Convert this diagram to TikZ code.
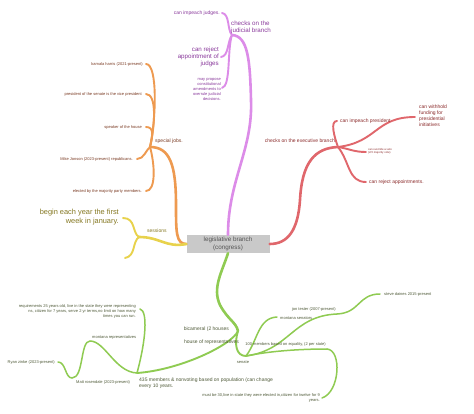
\documentclass[tikz,border=0pt]{standalone}
\usepackage{fontspec}
\setmainfont{Liberation Sans}
\definecolor{pinkl}{HTML}{DC8CE8}
\definecolor{pinkt}{HTML}{8A3A9C}
\definecolor{orl}{HTML}{EE9A50}
\definecolor{ort}{HTML}{7A3A22}
\definecolor{redl}{HTML}{E0676C}
\definecolor{redt}{HTML}{8B2B2B}
\definecolor{yell}{HTML}{E8D24C}
\definecolor{yelt}{HTML}{857822}
\definecolor{grnl}{HTML}{8FCB52}
\definecolor{grnt}{HTML}{4F5A38}
\definecolor{ctrf}{HTML}{C9C9C9}
\definecolor{ctrt}{HTML}{555555}
\begin{document}
\begin{tikzpicture}[x=1pt,y=-1pt,
  mainln/.style={line width=2.6pt,line cap=round},
  subln/.style={line width=1.9pt,line cap=round},
  leafln/.style={line width=1.5pt,line cap=round},
  tx/.style={inner sep=0pt,font=\fontsize{4}{5}\selectfont},
  txm/.style={inner sep=0pt,font=\fontsize{5}{6}\selectfont},
  txl/.style={inner sep=0pt,font=\fontsize{6.2}{7.3}\selectfont},
  txb/.style={inner sep=0pt,font=\fontsize{7.4}{9}\selectfont}]
\useasboundingbox (0,0) rectangle (474,414);
\fill[white] (0,0) rectangle (474,414);

% ---------- centre
\node[fill=ctrf,minimum width=83pt,minimum height=18pt,inner sep=0pt,align=center,text=ctrt,font=\fontsize{6.3}{7.5}\selectfont] (C) at (228,244) {legislative branch\\(congress)};

% ---------- pink: judicial
\coordinate (PJ) at (232,35);
\coordinate (pj1) at (222,13);
\coordinate (pj2) at (221,57);
\coordinate (pj3) at (222,88);
\draw[pinkl,mainln] (C.north) .. controls (228,180) and (253,150) .. (251,100) .. controls (250,60) and (248,36) .. (PJ);
\draw[pinkl,subln] (PJ) .. controls (227,30) and (230,14) .. (pj1);
\draw[pinkl,subln] (PJ) .. controls (227,42) and (229,56) .. (pj2);
\draw[pinkl,subln] (PJ) .. controls (227,50) and (231,86) .. (pj3);
\node[txl,text=pinkt,anchor=west,align=left] (pjl) at (231,27.5) {checks on the\\judicial branch};
\node[txm,text=pinkt,anchor=east] (t1) at (220,13) {can impeach judges.};
\node[txl,text=pinkt,anchor=east,align=right] (t2) at (219,57) {can reject\\appointment of\\judges};
\node[tx,text=pinkt,anchor=east,align=right] (t3) at (221,89) {may propose\\constitutional\\amendments to\\overrule judicial\\decisions.};

% ---------- orange: special jobs
\coordinate (OJ) at (150,147);
\coordinate (oj1) at (146,64);
\coordinate (oj2) at (146,94);
\coordinate (oj3) at (146,127);
\coordinate (oj4) at (137,159);
\coordinate (oj5) at (146,191);
\draw[orl,mainln] (C.west) .. controls (176,244) and (176,232) .. (176,205) .. controls (176,165) and (170,147) .. (OJ);
\draw[orl,subln] (OJ) .. controls (156,120) and (158,64) .. (oj1);
\draw[orl,subln] (OJ) .. controls (155,125) and (157,94) .. (oj2);
\draw[orl,subln] (OJ) .. controls (153,135) and (154,127) .. (oj3);
\draw[orl,subln] (OJ) .. controls (146,150) and (144,159) .. (oj4);
\draw[orl,subln] (OJ) .. controls (155,165) and (156,191) .. (oj5);
\node[txm,text=ort,anchor=west] (ojl) at (155,141) {special jobs.};
\node[tx,text=ort,anchor=east] (o1) at (143,64) {kamala harris (2021-present)};
\node[tx,text=ort,anchor=east] (o2) at (142,94) {president of the senate is the vice president};
\node[tx,text=ort,anchor=east] (o3) at (142,127) {speaker of the house};
\node[tx,text=ort,anchor=east] (o4) at (133,159) {Mike Jonson (2023-present) republicans.};
\node[tx,text=ort,anchor=east] (o5) at (142,191) {elected by the majority party members.};

% ---------- red: executive
\coordinate (RE) at (338,147);
\coordinate (re1) at (337,121);
\coordinate (re2) at (415,117);
\coordinate (re3) at (366,152);
\coordinate (re4) at (366,182);
\draw[redl,mainln] (C.east) .. controls (288,244) and (298,230) .. (300,200) .. controls (302,162) and (315,148) .. (RE);
\draw[redl,subln] (RE) .. controls (334,136) and (330,121) .. (re1);
\draw[redl,subln] (RE) .. controls (378,142) and (375,117) .. (re2);
\draw[redl,subln] (RE) .. controls (350,149) and (354,152) .. (re3);
\draw[redl,subln] (RE) .. controls (350,162) and (348,182) .. (re4);
\node[txm,text=redt,anchor=east] (rel) at (335,141) {checks on the executive branch};
\node[txm,text=redt,anchor=west] (r1) at (340,121) {can impeach president};
\node[txm,text=redt,anchor=west,align=left] (r2) at (419,116) {can withhold\\funding for\\presidential\\initiatives};
\node[inner sep=0pt,font=\fontsize{2.8}{3.4}\selectfont,text=redt,anchor=west,align=left] (r3) at (368,151.5) {can override a veto\\(2/3 majority vote)};
\node[txm,text=redt,anchor=west] (r4) at (369,182) {can reject appointments.};

% ---------- yellow: sessions
\coordinate (YS) at (139,237);
\coordinate (ys1) at (123,218);
\coordinate (ys2) at (125,258);
\draw[yell,mainln] (C.west) .. controls (166,248) and (160,237) .. (YS);
\draw[yell,subln] (YS) .. controls (132,233) and (136,218) .. (ys1);
\draw[yell,subln] (YS) .. controls (132,242) and (136,256) .. (ys2);
\node[txm,text=yelt,anchor=west] (ysl) at (147,231) {sessions};
\node[txb,text=yelt,anchor=east,align=right] (y1) at (119,217.5) {begin each year the first\\week in january.};

% ---------- green: bicameral
\coordinate (B) at (238,331);
\coordinate (HH) at (137,373);
\coordinate (S) at (246,356);
\draw[grnl,mainln] (C.south) .. controls (222,272) and (212,288) .. (220,305) .. controls (228,320) and (236,322) .. (B);
\draw[grnl,subln] (B) .. controls (232,345) and (180,370) .. (HH);
\draw[grnl,subln] (B) .. controls (234,344) and (236,356) .. (S);
\node[txm,text=grnt,anchor=east] (bl) at (229,329) {bicameral (2 houses};
\node[txm,text=grnt,anchor=east] (hl) at (239,342) {house of representatives};
\node[tx,text=grnt] (sl) at (243,362) {senate};

% senate children
\coordinate (s1) at (277,317);
\coordinate (s2) at (337,314);
\coordinate (s3) at (380,294);
\coordinate (s4) at (327,349);
\coordinate (s5) at (322,398);
\draw[grnl,leafln] (S) .. controls (258,340) and (258,318) .. (s1);
\draw[grnl,leafln] (S) .. controls (290,350) and (292,316) .. (s2);
\draw[grnl,leafln] (s2) .. controls (360,313) and (358,294) .. (s3);
\draw[grnl,leafln] (S) .. controls (270,351) and (300,349) .. (s4);
\draw[grnl,leafln] (s4) .. controls (342,350) and (340,392) .. (s5);
\node[tx,text=grnt,anchor=west] (g1) at (280,318) {montana senators};
\node[tx,text=grnt,anchor=south east] (g2) at (336,312) {jon tester (2007-present)};
\node[tx,text=grnt,anchor=west] (g3) at (384,294) {steve daines 2015-present};
\node[tx,text=grnt,anchor=south east] (g4) at (326,346.5) {100 members based on equality, (2 per state)};
\node[tx,text=grnt,anchor=east,align=right] (g5) at (320,398) {must be 30,live in state they were elected in,citizen for twelve for 9\\years.};

% house children
\coordinate (h1) at (140,309);
\coordinate (MR) at (90,341);
\coordinate (MT) at (72,378);
\coordinate (RZ) at (58,362);
\draw[grnl,leafln] (HH) .. controls (146,340) and (148,311) .. (h1);
\draw[grnl,leafln] (HH) .. controls (115,372) and (105,341) .. (MR) .. controls (80,341) and (84,378) .. (MT) .. controls (65,378) and (66,362) .. (RZ);
\node[tx,text=grnt,anchor=east,align=right] (g6) at (136,311) {requirements 25 years old, live in the state they were representing\\ns, citizen for 7 years, serve 2 yr terms,no limit on how many\\times you can run.};
\node[tx,text=grnt,anchor=west] (g7) at (92,337) {montana representatives};
\node[tx,text=grnt,anchor=west] (g8) at (76,382) {Matt rosendale (2023-present)};
\node[tx,text=grnt,anchor=east] (g9) at (55,362) {Ryan zinke (2023-present)};
\node[txm,text=grnt,anchor=north west,align=left] (g10) at (139,377.5) {435 members \& nonvoting based on population (can change\\every 10 years.};
\end{tikzpicture}
\end{document}
